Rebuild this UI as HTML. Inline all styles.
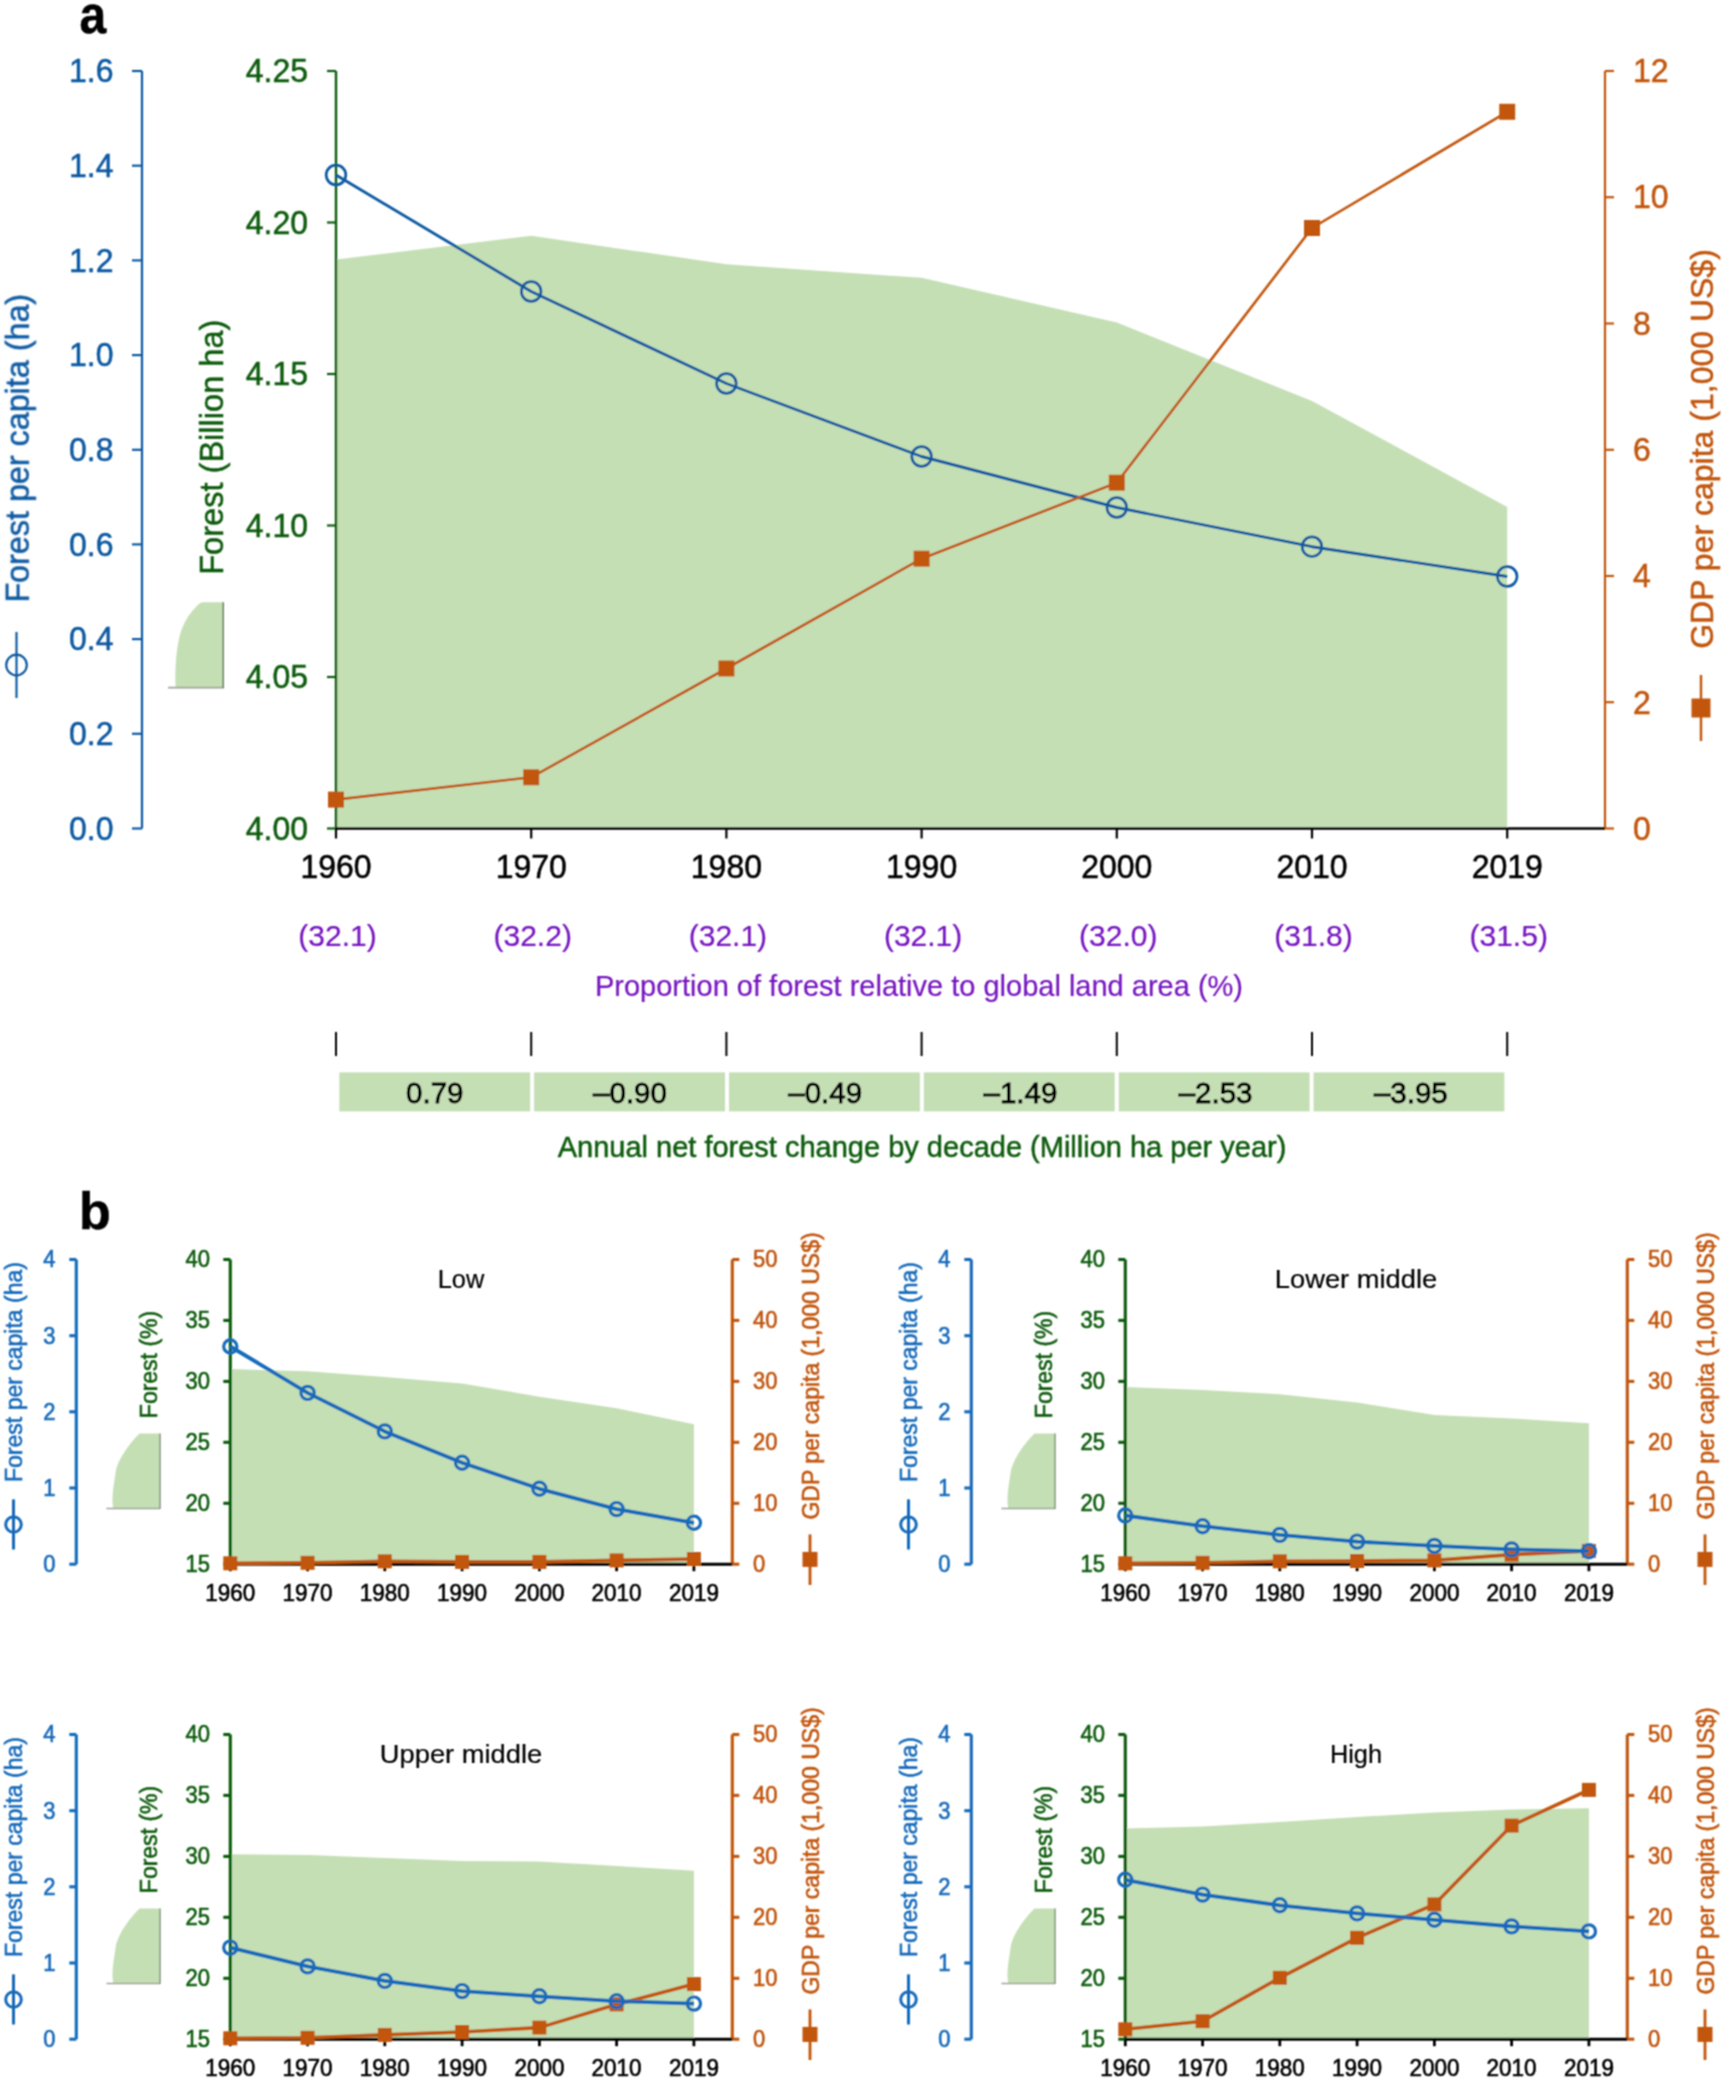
<!DOCTYPE html>
<html><head><meta charset="utf-8"><style>
html,body{margin:0;padding:0;background:#fff;}
svg{display:block;font-family:"Liberation Sans", sans-serif;}
text{stroke:currentColor;stroke-width:0.5px;}
.pb text{stroke-width:0.6px;}
</style></head><body>
<svg width="1725" height="2080" viewBox="0 0 1725 2080">
<defs><filter id="bl" x="0" y="0" width="1725" height="2080" filterUnits="userSpaceOnUse"><feConvolveMatrix order="3" kernelMatrix="1 2 1 2 4 2 1 2 1" divisor="16" edgeMode="duplicate"/></filter></defs>
<rect width="1725" height="2080" fill="#fff"/>
<g filter="url(#bl)">
<text x="0" y="0" font-size="48" font-weight="bold" fill="#000" transform="translate(79.5,33.3) scale(1,1.11)">a</text>
<polygon points="336.0,828.5 336.0,259.5 531.2,235.8 726.4,264.2 921.6,277.8 1116.8,322.5 1312.0,401.0 1507.2,507.0 1507.2,828.5" fill="#C5DFB5" />
<line x1="142.0" y1="71.0" x2="142.0" y2="828.5" stroke="#105AA2" stroke-width="2.2"/>
<line x1="132.0" y1="828.5" x2="142.0" y2="828.5" stroke="#105AA2" stroke-width="2.2"/>
<text x="0" y="0" fill="#105AA2" color="#105AA2" font-size="32" text-anchor="end" transform="translate(113.5,839.7) scale(1,1.04)" >0.0</text>
<line x1="132.0" y1="733.8" x2="142.0" y2="733.8" stroke="#105AA2" stroke-width="2.2"/>
<text x="0" y="0" fill="#105AA2" color="#105AA2" font-size="32" text-anchor="end" transform="translate(113.5,745.0) scale(1,1.04)" >0.2</text>
<line x1="132.0" y1="639.1" x2="142.0" y2="639.1" stroke="#105AA2" stroke-width="2.2"/>
<text x="0" y="0" fill="#105AA2" color="#105AA2" font-size="32" text-anchor="end" transform="translate(113.5,650.3) scale(1,1.04)" >0.4</text>
<line x1="132.0" y1="544.4" x2="142.0" y2="544.4" stroke="#105AA2" stroke-width="2.2"/>
<text x="0" y="0" fill="#105AA2" color="#105AA2" font-size="32" text-anchor="end" transform="translate(113.5,555.6) scale(1,1.04)" >0.6</text>
<line x1="132.0" y1="449.8" x2="142.0" y2="449.8" stroke="#105AA2" stroke-width="2.2"/>
<text x="0" y="0" fill="#105AA2" color="#105AA2" font-size="32" text-anchor="end" transform="translate(113.5,460.9) scale(1,1.04)" >0.8</text>
<line x1="132.0" y1="355.1" x2="142.0" y2="355.1" stroke="#105AA2" stroke-width="2.2"/>
<text x="0" y="0" fill="#105AA2" color="#105AA2" font-size="32" text-anchor="end" transform="translate(113.5,366.3) scale(1,1.04)" >1.0</text>
<line x1="132.0" y1="260.4" x2="142.0" y2="260.4" stroke="#105AA2" stroke-width="2.2"/>
<text x="0" y="0" fill="#105AA2" color="#105AA2" font-size="32" text-anchor="end" transform="translate(113.5,271.6) scale(1,1.04)" >1.2</text>
<line x1="132.0" y1="165.7" x2="142.0" y2="165.7" stroke="#105AA2" stroke-width="2.2"/>
<text x="0" y="0" fill="#105AA2" color="#105AA2" font-size="32" text-anchor="end" transform="translate(113.5,176.9) scale(1,1.04)" >1.4</text>
<line x1="132.0" y1="71.0" x2="142.0" y2="71.0" stroke="#105AA2" stroke-width="2.2"/>
<text x="0" y="0" fill="#105AA2" color="#105AA2" font-size="32" text-anchor="end" transform="translate(113.5,82.2) scale(1,1.04)" >1.6</text>
<line x1="336.0" y1="71.0" x2="336.0" y2="828.5" stroke="#0D5C0D" stroke-width="2.4"/>
<line x1="327.0" y1="828.5" x2="336.0" y2="828.5" stroke="#0D5C0D" stroke-width="2.2"/>
<text x="0" y="0" fill="#0D5C0D" color="#0D5C0D" font-size="32" text-anchor="end" transform="translate(308.0,839.7) scale(1,1.04)" >4.00</text>
<line x1="327.0" y1="677.0" x2="336.0" y2="677.0" stroke="#0D5C0D" stroke-width="2.2"/>
<text x="0" y="0" fill="#0D5C0D" color="#0D5C0D" font-size="32" text-anchor="end" transform="translate(308.0,688.2) scale(1,1.04)" >4.05</text>
<line x1="327.0" y1="525.5" x2="336.0" y2="525.5" stroke="#0D5C0D" stroke-width="2.2"/>
<text x="0" y="0" fill="#0D5C0D" color="#0D5C0D" font-size="32" text-anchor="end" transform="translate(308.0,536.7) scale(1,1.04)" >4.10</text>
<line x1="327.0" y1="374.0" x2="336.0" y2="374.0" stroke="#0D5C0D" stroke-width="2.2"/>
<text x="0" y="0" fill="#0D5C0D" color="#0D5C0D" font-size="32" text-anchor="end" transform="translate(308.0,385.2) scale(1,1.04)" >4.15</text>
<line x1="327.0" y1="222.5" x2="336.0" y2="222.5" stroke="#0D5C0D" stroke-width="2.2"/>
<text x="0" y="0" fill="#0D5C0D" color="#0D5C0D" font-size="32" text-anchor="end" transform="translate(308.0,233.7) scale(1,1.04)" >4.20</text>
<line x1="327.0" y1="71.0" x2="336.0" y2="71.0" stroke="#0D5C0D" stroke-width="2.2"/>
<text x="0" y="0" fill="#0D5C0D" color="#0D5C0D" font-size="32" text-anchor="end" transform="translate(308.0,82.2) scale(1,1.04)" >4.25</text>
<line x1="1605.0" y1="71.0" x2="1605.0" y2="828.5" stroke="#C2560F" stroke-width="2.2"/>
<line x1="1605.0" y1="828.5" x2="1614.0" y2="828.5" stroke="#C2560F" stroke-width="2.2"/>
<text x="0" y="0" fill="#C2560F" color="#C2560F" font-size="32" text-anchor="start" transform="translate(1633.0,839.7) scale(1,1.04)" >0</text>
<line x1="1605.0" y1="702.2" x2="1614.0" y2="702.2" stroke="#C2560F" stroke-width="2.2"/>
<text x="0" y="0" fill="#C2560F" color="#C2560F" font-size="32" text-anchor="start" transform="translate(1633.0,713.5) scale(1,1.04)" >2</text>
<line x1="1605.0" y1="576.0" x2="1614.0" y2="576.0" stroke="#C2560F" stroke-width="2.2"/>
<text x="0" y="0" fill="#C2560F" color="#C2560F" font-size="32" text-anchor="start" transform="translate(1633.0,587.2) scale(1,1.04)" >4</text>
<line x1="1605.0" y1="449.8" x2="1614.0" y2="449.8" stroke="#C2560F" stroke-width="2.2"/>
<text x="0" y="0" fill="#C2560F" color="#C2560F" font-size="32" text-anchor="start" transform="translate(1633.0,460.9) scale(1,1.04)" >6</text>
<line x1="1605.0" y1="323.5" x2="1614.0" y2="323.5" stroke="#C2560F" stroke-width="2.2"/>
<text x="0" y="0" fill="#C2560F" color="#C2560F" font-size="32" text-anchor="start" transform="translate(1633.0,334.7) scale(1,1.04)" >8</text>
<line x1="1605.0" y1="197.2" x2="1614.0" y2="197.2" stroke="#C2560F" stroke-width="2.2"/>
<text x="0" y="0" fill="#C2560F" color="#C2560F" font-size="32" text-anchor="start" transform="translate(1633.0,208.4) scale(1,1.04)" >10</text>
<line x1="1605.0" y1="71.0" x2="1614.0" y2="71.0" stroke="#C2560F" stroke-width="2.2"/>
<text x="0" y="0" fill="#C2560F" color="#C2560F" font-size="32" text-anchor="start" transform="translate(1633.0,82.2) scale(1,1.04)" >12</text>
<line x1="336.0" y1="828.5" x2="1605.0" y2="828.5" stroke="#000000" stroke-width="2.6"/>
<line x1="336.0" y1="828.5" x2="336.0" y2="838.5" stroke="#000000" stroke-width="2.2"/>
<text x="0" y="0" fill="#000000" color="#000000" font-size="32" text-anchor="middle" transform="translate(336.0,877.5) scale(1,1.04)" >1960</text>
<line x1="531.2" y1="828.5" x2="531.2" y2="838.5" stroke="#000000" stroke-width="2.2"/>
<text x="0" y="0" fill="#000000" color="#000000" font-size="32" text-anchor="middle" transform="translate(531.2,877.5) scale(1,1.04)" >1970</text>
<line x1="726.4" y1="828.5" x2="726.4" y2="838.5" stroke="#000000" stroke-width="2.2"/>
<text x="0" y="0" fill="#000000" color="#000000" font-size="32" text-anchor="middle" transform="translate(726.4,877.5) scale(1,1.04)" >1980</text>
<line x1="921.6" y1="828.5" x2="921.6" y2="838.5" stroke="#000000" stroke-width="2.2"/>
<text x="0" y="0" fill="#000000" color="#000000" font-size="32" text-anchor="middle" transform="translate(921.6,877.5) scale(1,1.04)" >1990</text>
<line x1="1116.8" y1="828.5" x2="1116.8" y2="838.5" stroke="#000000" stroke-width="2.2"/>
<text x="0" y="0" fill="#000000" color="#000000" font-size="32" text-anchor="middle" transform="translate(1116.8,877.5) scale(1,1.04)" >2000</text>
<line x1="1312.0" y1="828.5" x2="1312.0" y2="838.5" stroke="#000000" stroke-width="2.2"/>
<text x="0" y="0" fill="#000000" color="#000000" font-size="32" text-anchor="middle" transform="translate(1312.0,877.5) scale(1,1.04)" >2010</text>
<line x1="1507.2" y1="828.5" x2="1507.2" y2="838.5" stroke="#000000" stroke-width="2.2"/>
<text x="0" y="0" fill="#000000" color="#000000" font-size="32" text-anchor="middle" transform="translate(1507.2,877.5) scale(1,1.04)" >2019</text>
<polyline points="336.0,175.0 531.2,291.5 726.4,383.5 921.6,456.5 1116.8,507.5 1312.0,546.7 1507.2,576.5" fill="none" stroke="#105AA2" stroke-width="2.9" stroke-linejoin="round"/>
<circle cx="336.0" cy="175.0" r="9.8" fill="none" stroke="#105AA2" stroke-width="2.7"/>
<circle cx="531.2" cy="291.5" r="9.8" fill="none" stroke="#105AA2" stroke-width="2.7"/>
<circle cx="726.4" cy="383.5" r="9.8" fill="none" stroke="#105AA2" stroke-width="2.7"/>
<circle cx="921.6" cy="456.5" r="9.8" fill="none" stroke="#105AA2" stroke-width="2.7"/>
<circle cx="1116.8" cy="507.5" r="9.8" fill="none" stroke="#105AA2" stroke-width="2.7"/>
<circle cx="1312.0" cy="546.7" r="9.8" fill="none" stroke="#105AA2" stroke-width="2.7"/>
<circle cx="1507.2" cy="576.5" r="9.8" fill="none" stroke="#105AA2" stroke-width="2.7"/>
<polyline points="336.0,799.6 531.2,777.3 726.4,668.5 921.6,558.7 1116.8,482.7 1312.0,228.0 1507.2,111.8" fill="none" stroke="#C2560F" stroke-width="2.6" stroke-linejoin="round"/>
<rect x="328.0" y="791.6" width="16" height="16" fill="#C2560F"/>
<rect x="523.2" y="769.3" width="16" height="16" fill="#C2560F"/>
<rect x="718.4" y="660.5" width="16" height="16" fill="#C2560F"/>
<rect x="913.6" y="550.7" width="16" height="16" fill="#C2560F"/>
<rect x="1108.8" y="474.7" width="16" height="16" fill="#C2560F"/>
<rect x="1304.0" y="220.0" width="16" height="16" fill="#C2560F"/>
<rect x="1499.2" y="103.8" width="16" height="16" fill="#C2560F"/>
<text x="0" y="0" fill="#105AA2" color="#105AA2" font-size="32.3" text-anchor="middle" transform="translate(28.8,448.2) rotate(-90)" >Forest per capita (ha)</text>
<text x="0" y="0" fill="#0D5C0D" color="#0D5C0D" font-size="32.6" text-anchor="middle" transform="translate(223.0,447.2) rotate(-90)" >Forest (Billion ha)</text>
<text x="0" y="0" fill="#C2560F" color="#C2560F" font-size="32" text-anchor="middle" transform="translate(1713.0,449.0) rotate(-90)" >GDP per capita (1,000 US$)</text>
<line x1="16.5" y1="632.0" x2="16.5" y2="698.0" stroke="#105AA2" stroke-width="2.2"/>
<circle cx="16.5" cy="665.0" r="10.3" fill="none" stroke="#105AA2" stroke-width="2.2"/>
<path d="M175.6 687.6 C175 675 175.5 655 178.8 640 C181 628 187 616 195 608 C198 604.5 200 602.5 203 602.2 L223.2 602.2 L223.2 687.6 Z" fill="#C5DFB5"/>
<line x1="168.0" y1="687.6" x2="223.2" y2="687.6" stroke="#9ea69a" stroke-width="1.6"/>
<line x1="223.2" y1="602.2" x2="223.2" y2="688.2" stroke="#5E7058" stroke-width="1.4"/>
<line x1="1701.0" y1="675.0" x2="1701.0" y2="741.0" stroke="#C2560F" stroke-width="2.4"/>
<rect x="1691.5" y="698.5" width="19" height="19" fill="#C2560F"/>
<text x="337.5" y="946.3" fill="#7412C0" color="#7412C0" font-size="30" text-anchor="middle" style="stroke-width:0.15px">(32.1)</text>
<text x="532.7" y="946.3" fill="#7412C0" color="#7412C0" font-size="30" text-anchor="middle" style="stroke-width:0.15px">(32.2)</text>
<text x="727.9" y="946.3" fill="#7412C0" color="#7412C0" font-size="30" text-anchor="middle" style="stroke-width:0.15px">(32.1)</text>
<text x="923.1" y="946.3" fill="#7412C0" color="#7412C0" font-size="30" text-anchor="middle" style="stroke-width:0.15px">(32.1)</text>
<text x="1118.3" y="946.3" fill="#7412C0" color="#7412C0" font-size="30" text-anchor="middle" style="stroke-width:0.15px">(32.0)</text>
<text x="1313.5" y="946.3" fill="#7412C0" color="#7412C0" font-size="30" text-anchor="middle" style="stroke-width:0.15px">(31.8)</text>
<text x="1508.7" y="946.3" fill="#7412C0" color="#7412C0" font-size="30" text-anchor="middle" style="stroke-width:0.15px">(31.5)</text>
<text x="919.0" y="996.3" fill="#7412C0" color="#7412C0" font-size="29" text-anchor="middle" style="stroke-width:0.15px">Proportion of forest relative to global land area (%)</text>
<line x1="336.0" y1="1032.0" x2="336.0" y2="1056.0" stroke="#000000" stroke-width="2"/>
<line x1="531.2" y1="1032.0" x2="531.2" y2="1056.0" stroke="#000000" stroke-width="2"/>
<line x1="726.4" y1="1032.0" x2="726.4" y2="1056.0" stroke="#000000" stroke-width="2"/>
<line x1="921.6" y1="1032.0" x2="921.6" y2="1056.0" stroke="#000000" stroke-width="2"/>
<line x1="1116.8" y1="1032.0" x2="1116.8" y2="1056.0" stroke="#000000" stroke-width="2"/>
<line x1="1312.0" y1="1032.0" x2="1312.0" y2="1056.0" stroke="#000000" stroke-width="2"/>
<line x1="1507.2" y1="1032.0" x2="1507.2" y2="1056.0" stroke="#000000" stroke-width="2"/>
<rect x="339.3" y="1072.4" width="190.9" height="39" fill="#C5DFB5"/>
<text x="434.8" y="1102.8" fill="#000000" color="#000000" font-size="29.5" text-anchor="middle" style="stroke-width:0.9px">0.79</text>
<rect x="534.1" y="1072.4" width="190.9" height="39" fill="#C5DFB5"/>
<text x="630.0" y="1102.8" fill="#000000" color="#000000" font-size="29.5" text-anchor="middle" style="stroke-width:0.9px">&#8211;0.90</text>
<rect x="729.0" y="1072.4" width="190.9" height="39" fill="#C5DFB5"/>
<text x="825.2" y="1102.8" fill="#000000" color="#000000" font-size="29.5" text-anchor="middle" style="stroke-width:0.9px">&#8211;0.49</text>
<rect x="923.8" y="1072.4" width="190.9" height="39" fill="#C5DFB5"/>
<text x="1020.4" y="1102.8" fill="#000000" color="#000000" font-size="29.5" text-anchor="middle" style="stroke-width:0.9px">&#8211;1.49</text>
<rect x="1118.7" y="1072.4" width="190.9" height="39" fill="#C5DFB5"/>
<text x="1215.6" y="1102.8" fill="#000000" color="#000000" font-size="29.5" text-anchor="middle" style="stroke-width:0.9px">&#8211;2.53</text>
<rect x="1313.5" y="1072.4" width="190.9" height="39" fill="#C5DFB5"/>
<text x="1410.8" y="1102.8" fill="#000000" color="#000000" font-size="29.5" text-anchor="middle" style="stroke-width:0.9px">&#8211;3.95</text>
<text x="922.0" y="1156.8" fill="#0D5C0D" color="#0D5C0D" font-size="29" text-anchor="middle" >Annual net forest change by decade (Million ha per year)</text>
<text x="79" y="1229.2" font-size="52" font-weight="bold" fill="#000">b</text>
<g class="pb">
<polygon points="230.3,1564.2 230.3,1369.1 307.6,1371.2 384.8,1377.0 462.1,1383.6 539.4,1396.7 616.6,1408.3 693.9,1424.2 693.9,1564.2" fill="#C5DFB5" />
<line x1="76.3" y1="1259.5" x2="76.3" y2="1564.2" stroke="#176BBB" stroke-width="3.1"/>
<line x1="69.3" y1="1564.2" x2="76.3" y2="1564.2" stroke="#176BBB" stroke-width="3.1"/>
<text x="0" y="0" fill="#176BBB" color="#176BBB" font-size="22" text-anchor="end" transform="translate(55.5,1572.0) scale(1,1.07)" >0</text>
<line x1="69.3" y1="1488.0" x2="76.3" y2="1488.0" stroke="#176BBB" stroke-width="3.1"/>
<text x="0" y="0" fill="#176BBB" color="#176BBB" font-size="22" text-anchor="end" transform="translate(55.5,1495.8) scale(1,1.07)" >1</text>
<line x1="69.3" y1="1411.8" x2="76.3" y2="1411.8" stroke="#176BBB" stroke-width="3.1"/>
<text x="0" y="0" fill="#176BBB" color="#176BBB" font-size="22" text-anchor="end" transform="translate(55.5,1419.6) scale(1,1.07)" >2</text>
<line x1="69.3" y1="1335.7" x2="76.3" y2="1335.7" stroke="#176BBB" stroke-width="3.1"/>
<text x="0" y="0" fill="#176BBB" color="#176BBB" font-size="22" text-anchor="end" transform="translate(55.5,1343.5) scale(1,1.07)" >3</text>
<line x1="69.3" y1="1259.5" x2="76.3" y2="1259.5" stroke="#176BBB" stroke-width="3.1"/>
<text x="0" y="0" fill="#176BBB" color="#176BBB" font-size="22" text-anchor="end" transform="translate(55.5,1267.3) scale(1,1.07)" >4</text>
<line x1="230.3" y1="1259.5" x2="230.3" y2="1564.2" stroke="#0D5C0D" stroke-width="3.1"/>
<line x1="223.3" y1="1564.2" x2="230.3" y2="1564.2" stroke="#0D5C0D" stroke-width="3.1"/>
<text x="0" y="0" fill="#0D5C0D" color="#0D5C0D" font-size="22" text-anchor="end" transform="translate(210.0,1572.0) scale(1,1.07)" >15</text>
<line x1="223.3" y1="1503.3" x2="230.3" y2="1503.3" stroke="#0D5C0D" stroke-width="3.1"/>
<text x="0" y="0" fill="#0D5C0D" color="#0D5C0D" font-size="22" text-anchor="end" transform="translate(210.0,1511.1) scale(1,1.07)" >20</text>
<line x1="223.3" y1="1442.3" x2="230.3" y2="1442.3" stroke="#0D5C0D" stroke-width="3.1"/>
<text x="0" y="0" fill="#0D5C0D" color="#0D5C0D" font-size="22" text-anchor="end" transform="translate(210.0,1450.1) scale(1,1.07)" >25</text>
<line x1="223.3" y1="1381.4" x2="230.3" y2="1381.4" stroke="#0D5C0D" stroke-width="3.1"/>
<text x="0" y="0" fill="#0D5C0D" color="#0D5C0D" font-size="22" text-anchor="end" transform="translate(210.0,1389.2) scale(1,1.07)" >30</text>
<line x1="223.3" y1="1320.4" x2="230.3" y2="1320.4" stroke="#0D5C0D" stroke-width="3.1"/>
<text x="0" y="0" fill="#0D5C0D" color="#0D5C0D" font-size="22" text-anchor="end" transform="translate(210.0,1328.2) scale(1,1.07)" >35</text>
<line x1="223.3" y1="1259.5" x2="230.3" y2="1259.5" stroke="#0D5C0D" stroke-width="3.1"/>
<text x="0" y="0" fill="#0D5C0D" color="#0D5C0D" font-size="22" text-anchor="end" transform="translate(210.0,1267.3) scale(1,1.07)" >40</text>
<line x1="732.3" y1="1259.5" x2="732.3" y2="1564.2" stroke="#C2560F" stroke-width="3.1"/>
<line x1="732.3" y1="1564.2" x2="739.3" y2="1564.2" stroke="#C2560F" stroke-width="3.1"/>
<text x="0" y="0" fill="#C2560F" color="#C2560F" font-size="22" text-anchor="start" transform="translate(753.0,1572.0) scale(1,1.07)" >0</text>
<line x1="732.3" y1="1503.3" x2="739.3" y2="1503.3" stroke="#C2560F" stroke-width="3.1"/>
<text x="0" y="0" fill="#C2560F" color="#C2560F" font-size="22" text-anchor="start" transform="translate(753.0,1511.1) scale(1,1.07)" >10</text>
<line x1="732.3" y1="1442.3" x2="739.3" y2="1442.3" stroke="#C2560F" stroke-width="3.1"/>
<text x="0" y="0" fill="#C2560F" color="#C2560F" font-size="22" text-anchor="start" transform="translate(753.0,1450.1) scale(1,1.07)" >20</text>
<line x1="732.3" y1="1381.4" x2="739.3" y2="1381.4" stroke="#C2560F" stroke-width="3.1"/>
<text x="0" y="0" fill="#C2560F" color="#C2560F" font-size="22" text-anchor="start" transform="translate(753.0,1389.2) scale(1,1.07)" >30</text>
<line x1="732.3" y1="1320.4" x2="739.3" y2="1320.4" stroke="#C2560F" stroke-width="3.1"/>
<text x="0" y="0" fill="#C2560F" color="#C2560F" font-size="22" text-anchor="start" transform="translate(753.0,1328.2) scale(1,1.07)" >40</text>
<line x1="732.3" y1="1259.5" x2="739.3" y2="1259.5" stroke="#C2560F" stroke-width="3.1"/>
<text x="0" y="0" fill="#C2560F" color="#C2560F" font-size="22" text-anchor="start" transform="translate(753.0,1267.3) scale(1,1.07)" >50</text>
<line x1="230.3" y1="1564.2" x2="732.3" y2="1564.2" stroke="#000000" stroke-width="3.1"/>
<line x1="230.3" y1="1564.2" x2="230.3" y2="1571.2" stroke="#000000" stroke-width="2.8"/>
<text x="0" y="0" fill="#000000" color="#000000" font-size="22.5" text-anchor="middle" transform="translate(230.3,1600.7) scale(1,1.07)" >1960</text>
<line x1="307.6" y1="1564.2" x2="307.6" y2="1571.2" stroke="#000000" stroke-width="2.8"/>
<text x="0" y="0" fill="#000000" color="#000000" font-size="22.5" text-anchor="middle" transform="translate(307.6,1600.7) scale(1,1.07)" >1970</text>
<line x1="384.8" y1="1564.2" x2="384.8" y2="1571.2" stroke="#000000" stroke-width="2.8"/>
<text x="0" y="0" fill="#000000" color="#000000" font-size="22.5" text-anchor="middle" transform="translate(384.8,1600.7) scale(1,1.07)" >1980</text>
<line x1="462.1" y1="1564.2" x2="462.1" y2="1571.2" stroke="#000000" stroke-width="2.8"/>
<text x="0" y="0" fill="#000000" color="#000000" font-size="22.5" text-anchor="middle" transform="translate(462.1,1600.7) scale(1,1.07)" >1990</text>
<line x1="539.4" y1="1564.2" x2="539.4" y2="1571.2" stroke="#000000" stroke-width="2.8"/>
<text x="0" y="0" fill="#000000" color="#000000" font-size="22.5" text-anchor="middle" transform="translate(539.4,1600.7) scale(1,1.07)" >2000</text>
<line x1="616.6" y1="1564.2" x2="616.6" y2="1571.2" stroke="#000000" stroke-width="2.8"/>
<text x="0" y="0" fill="#000000" color="#000000" font-size="22.5" text-anchor="middle" transform="translate(616.6,1600.7) scale(1,1.07)" >2010</text>
<line x1="693.9" y1="1564.2" x2="693.9" y2="1571.2" stroke="#000000" stroke-width="2.8"/>
<text x="0" y="0" fill="#000000" color="#000000" font-size="22.5" text-anchor="middle" transform="translate(693.9,1600.7) scale(1,1.07)" >2019</text>
<polyline points="230.3,1563.3 307.6,1562.8 384.8,1561.3 462.1,1561.9 539.4,1561.9 616.6,1560.4 693.9,1559.0" fill="none" stroke="#C2560F" stroke-width="3.6" stroke-linejoin="round"/>
<rect x="223.3" y="1556.3" width="14" height="14" fill="#C2560F"/>
<rect x="300.6" y="1555.8" width="14" height="14" fill="#C2560F"/>
<rect x="377.8" y="1554.3" width="14" height="14" fill="#C2560F"/>
<rect x="455.1" y="1554.9" width="14" height="14" fill="#C2560F"/>
<rect x="532.4" y="1554.9" width="14" height="14" fill="#C2560F"/>
<rect x="609.6" y="1553.4" width="14" height="14" fill="#C2560F"/>
<rect x="686.9" y="1552.0" width="14" height="14" fill="#C2560F"/>
<polyline points="230.3,1346.5 307.6,1392.9 384.8,1431.4 462.1,1462.8 539.4,1488.8 616.6,1509.1 693.9,1522.8" fill="none" stroke="#176BBB" stroke-width="3.8" stroke-linejoin="round"/>
<circle cx="230.3" cy="1346.5" r="6.6" fill="none" stroke="#176BBB" stroke-width="3.2"/>
<circle cx="307.6" cy="1392.9" r="6.6" fill="none" stroke="#176BBB" stroke-width="3.2"/>
<circle cx="384.8" cy="1431.4" r="6.6" fill="none" stroke="#176BBB" stroke-width="3.2"/>
<circle cx="462.1" cy="1462.8" r="6.6" fill="none" stroke="#176BBB" stroke-width="3.2"/>
<circle cx="539.4" cy="1488.8" r="6.6" fill="none" stroke="#176BBB" stroke-width="3.2"/>
<circle cx="616.6" cy="1509.1" r="6.6" fill="none" stroke="#176BBB" stroke-width="3.2"/>
<circle cx="693.9" cy="1522.8" r="6.6" fill="none" stroke="#176BBB" stroke-width="3.2"/>
<text x="461.0" y="1288.0" fill="#000" color="#000" font-size="26" text-anchor="middle" style="stroke-width:0.2px" textLength="46.6" lengthAdjust="spacingAndGlyphs">Low</text>
<text x="0" y="0" fill="#176BBB" color="#176BBB" font-size="23" text-anchor="middle" transform="translate(21.5,1372.0) rotate(-90)" >Forest per capita (ha)</text>
<text x="0" y="0" fill="#0D5C0D" color="#0D5C0D" font-size="23" text-anchor="middle" transform="translate(156.5,1364.5) rotate(-90)" >Forest (%)</text>
<text x="0" y="0" fill="#C2560F" color="#C2560F" font-size="23" text-anchor="middle" transform="translate(818.5,1376.0) rotate(-90)" >GDP per capita (1,000 US$)</text>
<line x1="13.5" y1="1499.4" x2="13.5" y2="1549.5" stroke="#176BBB" stroke-width="3.0"/>
<circle cx="13.5" cy="1524.5" r="7.8" fill="none" stroke="#176BBB" stroke-width="3.0"/>
<path transform="translate(0,0)" d="M113.3 1508.5 C111 1497 114 1485 116 1470 C119 1458 128 1446 136 1437 L139.5 1433.5 L160 1433.5 L160 1508.5 Z" fill="#C5DFB5"/>
<line x1="106.4" y1="1508.5" x2="160.0" y2="1508.5" stroke="#9ea69a" stroke-width="1.6"/>
<line x1="160.0" y1="1433.5" x2="160.0" y2="1509.0" stroke="#7E8E78" stroke-width="1.4"/>
<line x1="810.0" y1="1534.4" x2="810.0" y2="1585.0" stroke="#C2560F" stroke-width="2.8"/>
<rect x="802.5" y="1551.9" width="15" height="15" fill="#C2560F"/>
</g>
<g class="pb">
<polygon points="1125.3,1564.2 1125.3,1387.1 1202.6,1390.0 1279.8,1394.3 1357.1,1402.5 1434.4,1414.9 1511.6,1418.4 1588.9,1423.3 1588.9,1564.2" fill="#C5DFB5" />
<line x1="971.3" y1="1259.5" x2="971.3" y2="1564.2" stroke="#176BBB" stroke-width="3.1"/>
<line x1="964.3" y1="1564.2" x2="971.3" y2="1564.2" stroke="#176BBB" stroke-width="3.1"/>
<text x="0" y="0" fill="#176BBB" color="#176BBB" font-size="22" text-anchor="end" transform="translate(950.5,1572.0) scale(1,1.07)" >0</text>
<line x1="964.3" y1="1488.0" x2="971.3" y2="1488.0" stroke="#176BBB" stroke-width="3.1"/>
<text x="0" y="0" fill="#176BBB" color="#176BBB" font-size="22" text-anchor="end" transform="translate(950.5,1495.8) scale(1,1.07)" >1</text>
<line x1="964.3" y1="1411.8" x2="971.3" y2="1411.8" stroke="#176BBB" stroke-width="3.1"/>
<text x="0" y="0" fill="#176BBB" color="#176BBB" font-size="22" text-anchor="end" transform="translate(950.5,1419.6) scale(1,1.07)" >2</text>
<line x1="964.3" y1="1335.7" x2="971.3" y2="1335.7" stroke="#176BBB" stroke-width="3.1"/>
<text x="0" y="0" fill="#176BBB" color="#176BBB" font-size="22" text-anchor="end" transform="translate(950.5,1343.5) scale(1,1.07)" >3</text>
<line x1="964.3" y1="1259.5" x2="971.3" y2="1259.5" stroke="#176BBB" stroke-width="3.1"/>
<text x="0" y="0" fill="#176BBB" color="#176BBB" font-size="22" text-anchor="end" transform="translate(950.5,1267.3) scale(1,1.07)" >4</text>
<line x1="1125.3" y1="1259.5" x2="1125.3" y2="1564.2" stroke="#0D5C0D" stroke-width="3.1"/>
<line x1="1118.3" y1="1564.2" x2="1125.3" y2="1564.2" stroke="#0D5C0D" stroke-width="3.1"/>
<text x="0" y="0" fill="#0D5C0D" color="#0D5C0D" font-size="22" text-anchor="end" transform="translate(1105.0,1572.0) scale(1,1.07)" >15</text>
<line x1="1118.3" y1="1503.3" x2="1125.3" y2="1503.3" stroke="#0D5C0D" stroke-width="3.1"/>
<text x="0" y="0" fill="#0D5C0D" color="#0D5C0D" font-size="22" text-anchor="end" transform="translate(1105.0,1511.1) scale(1,1.07)" >20</text>
<line x1="1118.3" y1="1442.3" x2="1125.3" y2="1442.3" stroke="#0D5C0D" stroke-width="3.1"/>
<text x="0" y="0" fill="#0D5C0D" color="#0D5C0D" font-size="22" text-anchor="end" transform="translate(1105.0,1450.1) scale(1,1.07)" >25</text>
<line x1="1118.3" y1="1381.4" x2="1125.3" y2="1381.4" stroke="#0D5C0D" stroke-width="3.1"/>
<text x="0" y="0" fill="#0D5C0D" color="#0D5C0D" font-size="22" text-anchor="end" transform="translate(1105.0,1389.2) scale(1,1.07)" >30</text>
<line x1="1118.3" y1="1320.4" x2="1125.3" y2="1320.4" stroke="#0D5C0D" stroke-width="3.1"/>
<text x="0" y="0" fill="#0D5C0D" color="#0D5C0D" font-size="22" text-anchor="end" transform="translate(1105.0,1328.2) scale(1,1.07)" >35</text>
<line x1="1118.3" y1="1259.5" x2="1125.3" y2="1259.5" stroke="#0D5C0D" stroke-width="3.1"/>
<text x="0" y="0" fill="#0D5C0D" color="#0D5C0D" font-size="22" text-anchor="end" transform="translate(1105.0,1267.3) scale(1,1.07)" >40</text>
<line x1="1627.3" y1="1259.5" x2="1627.3" y2="1564.2" stroke="#C2560F" stroke-width="3.1"/>
<line x1="1627.3" y1="1564.2" x2="1634.3" y2="1564.2" stroke="#C2560F" stroke-width="3.1"/>
<text x="0" y="0" fill="#C2560F" color="#C2560F" font-size="22" text-anchor="start" transform="translate(1648.0,1572.0) scale(1,1.07)" >0</text>
<line x1="1627.3" y1="1503.3" x2="1634.3" y2="1503.3" stroke="#C2560F" stroke-width="3.1"/>
<text x="0" y="0" fill="#C2560F" color="#C2560F" font-size="22" text-anchor="start" transform="translate(1648.0,1511.1) scale(1,1.07)" >10</text>
<line x1="1627.3" y1="1442.3" x2="1634.3" y2="1442.3" stroke="#C2560F" stroke-width="3.1"/>
<text x="0" y="0" fill="#C2560F" color="#C2560F" font-size="22" text-anchor="start" transform="translate(1648.0,1450.1) scale(1,1.07)" >20</text>
<line x1="1627.3" y1="1381.4" x2="1634.3" y2="1381.4" stroke="#C2560F" stroke-width="3.1"/>
<text x="0" y="0" fill="#C2560F" color="#C2560F" font-size="22" text-anchor="start" transform="translate(1648.0,1389.2) scale(1,1.07)" >30</text>
<line x1="1627.3" y1="1320.4" x2="1634.3" y2="1320.4" stroke="#C2560F" stroke-width="3.1"/>
<text x="0" y="0" fill="#C2560F" color="#C2560F" font-size="22" text-anchor="start" transform="translate(1648.0,1328.2) scale(1,1.07)" >40</text>
<line x1="1627.3" y1="1259.5" x2="1634.3" y2="1259.5" stroke="#C2560F" stroke-width="3.1"/>
<text x="0" y="0" fill="#C2560F" color="#C2560F" font-size="22" text-anchor="start" transform="translate(1648.0,1267.3) scale(1,1.07)" >50</text>
<line x1="1125.3" y1="1564.2" x2="1627.3" y2="1564.2" stroke="#000000" stroke-width="3.1"/>
<line x1="1125.3" y1="1564.2" x2="1125.3" y2="1571.2" stroke="#000000" stroke-width="2.8"/>
<text x="0" y="0" fill="#000000" color="#000000" font-size="22.5" text-anchor="middle" transform="translate(1125.3,1600.7) scale(1,1.07)" >1960</text>
<line x1="1202.6" y1="1564.2" x2="1202.6" y2="1571.2" stroke="#000000" stroke-width="2.8"/>
<text x="0" y="0" fill="#000000" color="#000000" font-size="22.5" text-anchor="middle" transform="translate(1202.6,1600.7) scale(1,1.07)" >1970</text>
<line x1="1279.8" y1="1564.2" x2="1279.8" y2="1571.2" stroke="#000000" stroke-width="2.8"/>
<text x="0" y="0" fill="#000000" color="#000000" font-size="22.5" text-anchor="middle" transform="translate(1279.8,1600.7) scale(1,1.07)" >1980</text>
<line x1="1357.1" y1="1564.2" x2="1357.1" y2="1571.2" stroke="#000000" stroke-width="2.8"/>
<text x="0" y="0" fill="#000000" color="#000000" font-size="22.5" text-anchor="middle" transform="translate(1357.1,1600.7) scale(1,1.07)" >1990</text>
<line x1="1434.4" y1="1564.2" x2="1434.4" y2="1571.2" stroke="#000000" stroke-width="2.8"/>
<text x="0" y="0" fill="#000000" color="#000000" font-size="22.5" text-anchor="middle" transform="translate(1434.4,1600.7) scale(1,1.07)" >2000</text>
<line x1="1511.6" y1="1564.2" x2="1511.6" y2="1571.2" stroke="#000000" stroke-width="2.8"/>
<text x="0" y="0" fill="#000000" color="#000000" font-size="22.5" text-anchor="middle" transform="translate(1511.6,1600.7) scale(1,1.07)" >2010</text>
<line x1="1588.9" y1="1564.2" x2="1588.9" y2="1571.2" stroke="#000000" stroke-width="2.8"/>
<text x="0" y="0" fill="#000000" color="#000000" font-size="22.5" text-anchor="middle" transform="translate(1588.9,1600.7) scale(1,1.07)" >2019</text>
<polyline points="1125.3,1563.3 1202.6,1562.8 1279.8,1561.3 1357.1,1561.0 1434.4,1560.4 1511.6,1554.6 1588.9,1550.9" fill="none" stroke="#C2560F" stroke-width="3.6" stroke-linejoin="round"/>
<rect x="1118.3" y="1556.3" width="14" height="14" fill="#C2560F"/>
<rect x="1195.6" y="1555.8" width="14" height="14" fill="#C2560F"/>
<rect x="1272.8" y="1554.3" width="14" height="14" fill="#C2560F"/>
<rect x="1350.1" y="1554.0" width="14" height="14" fill="#C2560F"/>
<rect x="1427.4" y="1553.4" width="14" height="14" fill="#C2560F"/>
<rect x="1504.6" y="1547.6" width="14" height="14" fill="#C2560F"/>
<rect x="1581.9" y="1543.9" width="14" height="14" fill="#C2560F"/>
<polyline points="1125.3,1515.5 1202.6,1526.2 1279.8,1534.9 1357.1,1541.6 1434.4,1545.9 1511.6,1549.4 1588.9,1551.2" fill="none" stroke="#176BBB" stroke-width="3.8" stroke-linejoin="round"/>
<circle cx="1125.3" cy="1515.5" r="6.6" fill="none" stroke="#176BBB" stroke-width="3.2"/>
<circle cx="1202.6" cy="1526.2" r="6.6" fill="none" stroke="#176BBB" stroke-width="3.2"/>
<circle cx="1279.8" cy="1534.9" r="6.6" fill="none" stroke="#176BBB" stroke-width="3.2"/>
<circle cx="1357.1" cy="1541.6" r="6.6" fill="none" stroke="#176BBB" stroke-width="3.2"/>
<circle cx="1434.4" cy="1545.9" r="6.6" fill="none" stroke="#176BBB" stroke-width="3.2"/>
<circle cx="1511.6" cy="1549.4" r="6.6" fill="none" stroke="#176BBB" stroke-width="3.2"/>
<circle cx="1588.9" cy="1551.2" r="6.6" fill="none" stroke="#176BBB" stroke-width="3.2"/>
<text x="1356.0" y="1288.0" fill="#000" color="#000" font-size="26" text-anchor="middle" style="stroke-width:0.2px" textLength="162.3" lengthAdjust="spacingAndGlyphs">Lower middle</text>
<text x="0" y="0" fill="#176BBB" color="#176BBB" font-size="23" text-anchor="middle" transform="translate(916.5,1372.0) rotate(-90)" >Forest per capita (ha)</text>
<text x="0" y="0" fill="#0D5C0D" color="#0D5C0D" font-size="23" text-anchor="middle" transform="translate(1051.5,1364.5) rotate(-90)" >Forest (%)</text>
<text x="0" y="0" fill="#C2560F" color="#C2560F" font-size="23" text-anchor="middle" transform="translate(1713.5,1376.0) rotate(-90)" >GDP per capita (1,000 US$)</text>
<line x1="908.5" y1="1499.4" x2="908.5" y2="1549.5" stroke="#176BBB" stroke-width="3.0"/>
<circle cx="908.5" cy="1524.5" r="7.8" fill="none" stroke="#176BBB" stroke-width="3.0"/>
<path transform="translate(895,0)" d="M113.3 1508.5 C111 1497 114 1485 116 1470 C119 1458 128 1446 136 1437 L139.5 1433.5 L160 1433.5 L160 1508.5 Z" fill="#C5DFB5"/>
<line x1="1001.4" y1="1508.5" x2="1055.0" y2="1508.5" stroke="#9ea69a" stroke-width="1.6"/>
<line x1="1055.0" y1="1433.5" x2="1055.0" y2="1509.0" stroke="#7E8E78" stroke-width="1.4"/>
<line x1="1705.0" y1="1534.4" x2="1705.0" y2="1585.0" stroke="#C2560F" stroke-width="2.8"/>
<rect x="1697.5" y="1551.9" width="15" height="15" fill="#C2560F"/>
</g>
<g class="pb">
<polygon points="230.3,2039.2 230.3,1854.3 307.6,1854.9 384.8,1858.0 462.1,1860.9 539.4,1861.5 616.6,1865.9 693.9,1870.8 693.9,2039.2" fill="#C5DFB5" />
<line x1="76.3" y1="1734.5" x2="76.3" y2="2039.2" stroke="#176BBB" stroke-width="3.1"/>
<line x1="69.3" y1="2039.2" x2="76.3" y2="2039.2" stroke="#176BBB" stroke-width="3.1"/>
<text x="0" y="0" fill="#176BBB" color="#176BBB" font-size="22" text-anchor="end" transform="translate(55.5,2047.0) scale(1,1.07)" >0</text>
<line x1="69.3" y1="1963.0" x2="76.3" y2="1963.0" stroke="#176BBB" stroke-width="3.1"/>
<text x="0" y="0" fill="#176BBB" color="#176BBB" font-size="22" text-anchor="end" transform="translate(55.5,1970.8) scale(1,1.07)" >1</text>
<line x1="69.3" y1="1886.8" x2="76.3" y2="1886.8" stroke="#176BBB" stroke-width="3.1"/>
<text x="0" y="0" fill="#176BBB" color="#176BBB" font-size="22" text-anchor="end" transform="translate(55.5,1894.6) scale(1,1.07)" >2</text>
<line x1="69.3" y1="1810.7" x2="76.3" y2="1810.7" stroke="#176BBB" stroke-width="3.1"/>
<text x="0" y="0" fill="#176BBB" color="#176BBB" font-size="22" text-anchor="end" transform="translate(55.5,1818.5) scale(1,1.07)" >3</text>
<line x1="69.3" y1="1734.5" x2="76.3" y2="1734.5" stroke="#176BBB" stroke-width="3.1"/>
<text x="0" y="0" fill="#176BBB" color="#176BBB" font-size="22" text-anchor="end" transform="translate(55.5,1742.3) scale(1,1.07)" >4</text>
<line x1="230.3" y1="1734.5" x2="230.3" y2="2039.2" stroke="#0D5C0D" stroke-width="3.1"/>
<line x1="223.3" y1="2039.2" x2="230.3" y2="2039.2" stroke="#0D5C0D" stroke-width="3.1"/>
<text x="0" y="0" fill="#0D5C0D" color="#0D5C0D" font-size="22" text-anchor="end" transform="translate(210.0,2047.0) scale(1,1.07)" >15</text>
<line x1="223.3" y1="1978.3" x2="230.3" y2="1978.3" stroke="#0D5C0D" stroke-width="3.1"/>
<text x="0" y="0" fill="#0D5C0D" color="#0D5C0D" font-size="22" text-anchor="end" transform="translate(210.0,1986.1) scale(1,1.07)" >20</text>
<line x1="223.3" y1="1917.3" x2="230.3" y2="1917.3" stroke="#0D5C0D" stroke-width="3.1"/>
<text x="0" y="0" fill="#0D5C0D" color="#0D5C0D" font-size="22" text-anchor="end" transform="translate(210.0,1925.1) scale(1,1.07)" >25</text>
<line x1="223.3" y1="1856.4" x2="230.3" y2="1856.4" stroke="#0D5C0D" stroke-width="3.1"/>
<text x="0" y="0" fill="#0D5C0D" color="#0D5C0D" font-size="22" text-anchor="end" transform="translate(210.0,1864.2) scale(1,1.07)" >30</text>
<line x1="223.3" y1="1795.4" x2="230.3" y2="1795.4" stroke="#0D5C0D" stroke-width="3.1"/>
<text x="0" y="0" fill="#0D5C0D" color="#0D5C0D" font-size="22" text-anchor="end" transform="translate(210.0,1803.2) scale(1,1.07)" >35</text>
<line x1="223.3" y1="1734.5" x2="230.3" y2="1734.5" stroke="#0D5C0D" stroke-width="3.1"/>
<text x="0" y="0" fill="#0D5C0D" color="#0D5C0D" font-size="22" text-anchor="end" transform="translate(210.0,1742.3) scale(1,1.07)" >40</text>
<line x1="732.3" y1="1734.5" x2="732.3" y2="2039.2" stroke="#C2560F" stroke-width="3.1"/>
<line x1="732.3" y1="2039.2" x2="739.3" y2="2039.2" stroke="#C2560F" stroke-width="3.1"/>
<text x="0" y="0" fill="#C2560F" color="#C2560F" font-size="22" text-anchor="start" transform="translate(753.0,2047.0) scale(1,1.07)" >0</text>
<line x1="732.3" y1="1978.3" x2="739.3" y2="1978.3" stroke="#C2560F" stroke-width="3.1"/>
<text x="0" y="0" fill="#C2560F" color="#C2560F" font-size="22" text-anchor="start" transform="translate(753.0,1986.1) scale(1,1.07)" >10</text>
<line x1="732.3" y1="1917.3" x2="739.3" y2="1917.3" stroke="#C2560F" stroke-width="3.1"/>
<text x="0" y="0" fill="#C2560F" color="#C2560F" font-size="22" text-anchor="start" transform="translate(753.0,1925.1) scale(1,1.07)" >20</text>
<line x1="732.3" y1="1856.4" x2="739.3" y2="1856.4" stroke="#C2560F" stroke-width="3.1"/>
<text x="0" y="0" fill="#C2560F" color="#C2560F" font-size="22" text-anchor="start" transform="translate(753.0,1864.2) scale(1,1.07)" >30</text>
<line x1="732.3" y1="1795.4" x2="739.3" y2="1795.4" stroke="#C2560F" stroke-width="3.1"/>
<text x="0" y="0" fill="#C2560F" color="#C2560F" font-size="22" text-anchor="start" transform="translate(753.0,1803.2) scale(1,1.07)" >40</text>
<line x1="732.3" y1="1734.5" x2="739.3" y2="1734.5" stroke="#C2560F" stroke-width="3.1"/>
<text x="0" y="0" fill="#C2560F" color="#C2560F" font-size="22" text-anchor="start" transform="translate(753.0,1742.3) scale(1,1.07)" >50</text>
<line x1="230.3" y1="2039.2" x2="732.3" y2="2039.2" stroke="#000000" stroke-width="3.1"/>
<line x1="230.3" y1="2039.2" x2="230.3" y2="2046.2" stroke="#000000" stroke-width="2.8"/>
<text x="0" y="0" fill="#000000" color="#000000" font-size="22.5" text-anchor="middle" transform="translate(230.3,2075.7) scale(1,1.07)" >1960</text>
<line x1="307.6" y1="2039.2" x2="307.6" y2="2046.2" stroke="#000000" stroke-width="2.8"/>
<text x="0" y="0" fill="#000000" color="#000000" font-size="22.5" text-anchor="middle" transform="translate(307.6,2075.7) scale(1,1.07)" >1970</text>
<line x1="384.8" y1="2039.2" x2="384.8" y2="2046.2" stroke="#000000" stroke-width="2.8"/>
<text x="0" y="0" fill="#000000" color="#000000" font-size="22.5" text-anchor="middle" transform="translate(384.8,2075.7) scale(1,1.07)" >1980</text>
<line x1="462.1" y1="2039.2" x2="462.1" y2="2046.2" stroke="#000000" stroke-width="2.8"/>
<text x="0" y="0" fill="#000000" color="#000000" font-size="22.5" text-anchor="middle" transform="translate(462.1,2075.7) scale(1,1.07)" >1990</text>
<line x1="539.4" y1="2039.2" x2="539.4" y2="2046.2" stroke="#000000" stroke-width="2.8"/>
<text x="0" y="0" fill="#000000" color="#000000" font-size="22.5" text-anchor="middle" transform="translate(539.4,2075.7) scale(1,1.07)" >2000</text>
<line x1="616.6" y1="2039.2" x2="616.6" y2="2046.2" stroke="#000000" stroke-width="2.8"/>
<text x="0" y="0" fill="#000000" color="#000000" font-size="22.5" text-anchor="middle" transform="translate(616.6,2075.7) scale(1,1.07)" >2010</text>
<line x1="693.9" y1="2039.2" x2="693.9" y2="2046.2" stroke="#000000" stroke-width="2.8"/>
<text x="0" y="0" fill="#000000" color="#000000" font-size="22.5" text-anchor="middle" transform="translate(693.9,2075.7) scale(1,1.07)" >2019</text>
<polyline points="230.3,2038.3 307.6,2037.8 384.8,2034.9 462.1,2032.0 539.4,2027.6 616.6,2004.4 693.9,1984.1" fill="none" stroke="#C2560F" stroke-width="3.6" stroke-linejoin="round"/>
<rect x="223.3" y="2031.3" width="14" height="14" fill="#C2560F"/>
<rect x="300.6" y="2030.8" width="14" height="14" fill="#C2560F"/>
<rect x="377.8" y="2027.9" width="14" height="14" fill="#C2560F"/>
<rect x="455.1" y="2025.0" width="14" height="14" fill="#C2560F"/>
<rect x="532.4" y="2020.6" width="14" height="14" fill="#C2560F"/>
<rect x="609.6" y="1997.4" width="14" height="14" fill="#C2560F"/>
<rect x="686.9" y="1977.1" width="14" height="14" fill="#C2560F"/>
<polyline points="230.3,1947.6 307.6,1966.4 384.8,1980.9 462.1,1991.1 539.4,1996.3 616.6,2001.2 693.9,2003.6" fill="none" stroke="#176BBB" stroke-width="3.8" stroke-linejoin="round"/>
<circle cx="230.3" cy="1947.6" r="6.6" fill="none" stroke="#176BBB" stroke-width="3.2"/>
<circle cx="307.6" cy="1966.4" r="6.6" fill="none" stroke="#176BBB" stroke-width="3.2"/>
<circle cx="384.8" cy="1980.9" r="6.6" fill="none" stroke="#176BBB" stroke-width="3.2"/>
<circle cx="462.1" cy="1991.1" r="6.6" fill="none" stroke="#176BBB" stroke-width="3.2"/>
<circle cx="539.4" cy="1996.3" r="6.6" fill="none" stroke="#176BBB" stroke-width="3.2"/>
<circle cx="616.6" cy="2001.2" r="6.6" fill="none" stroke="#176BBB" stroke-width="3.2"/>
<circle cx="693.9" cy="2003.6" r="6.6" fill="none" stroke="#176BBB" stroke-width="3.2"/>
<text x="461.0" y="1763.0" fill="#000" color="#000" font-size="26" text-anchor="middle" style="stroke-width:0.2px" textLength="162.3" lengthAdjust="spacingAndGlyphs">Upper middle</text>
<text x="0" y="0" fill="#176BBB" color="#176BBB" font-size="23" text-anchor="middle" transform="translate(21.5,1847.0) rotate(-90)" >Forest per capita (ha)</text>
<text x="0" y="0" fill="#0D5C0D" color="#0D5C0D" font-size="23" text-anchor="middle" transform="translate(156.5,1839.5) rotate(-90)" >Forest (%)</text>
<text x="0" y="0" fill="#C2560F" color="#C2560F" font-size="23" text-anchor="middle" transform="translate(818.5,1851.0) rotate(-90)" >GDP per capita (1,000 US$)</text>
<line x1="13.5" y1="1974.4" x2="13.5" y2="2024.5" stroke="#176BBB" stroke-width="3.0"/>
<circle cx="13.5" cy="1999.5" r="7.8" fill="none" stroke="#176BBB" stroke-width="3.0"/>
<path transform="translate(0,475)" d="M113.3 1508.5 C111 1497 114 1485 116 1470 C119 1458 128 1446 136 1437 L139.5 1433.5 L160 1433.5 L160 1508.5 Z" fill="#C5DFB5"/>
<line x1="106.4" y1="1983.5" x2="160.0" y2="1983.5" stroke="#9ea69a" stroke-width="1.6"/>
<line x1="160.0" y1="1908.5" x2="160.0" y2="1984.0" stroke="#7E8E78" stroke-width="1.4"/>
<line x1="810.0" y1="2009.4" x2="810.0" y2="2060.0" stroke="#C2560F" stroke-width="2.8"/>
<rect x="802.5" y="2026.9" width="15" height="15" fill="#C2560F"/>
</g>
<g class="pb">
<polygon points="1125.3,2039.2 1125.3,1828.5 1202.6,1826.4 1279.8,1822.1 1357.1,1816.9 1434.4,1812.5 1511.6,1809.6 1588.9,1808.2 1588.9,2039.2" fill="#C5DFB5" />
<line x1="971.3" y1="1734.5" x2="971.3" y2="2039.2" stroke="#176BBB" stroke-width="3.1"/>
<line x1="964.3" y1="2039.2" x2="971.3" y2="2039.2" stroke="#176BBB" stroke-width="3.1"/>
<text x="0" y="0" fill="#176BBB" color="#176BBB" font-size="22" text-anchor="end" transform="translate(950.5,2047.0) scale(1,1.07)" >0</text>
<line x1="964.3" y1="1963.0" x2="971.3" y2="1963.0" stroke="#176BBB" stroke-width="3.1"/>
<text x="0" y="0" fill="#176BBB" color="#176BBB" font-size="22" text-anchor="end" transform="translate(950.5,1970.8) scale(1,1.07)" >1</text>
<line x1="964.3" y1="1886.8" x2="971.3" y2="1886.8" stroke="#176BBB" stroke-width="3.1"/>
<text x="0" y="0" fill="#176BBB" color="#176BBB" font-size="22" text-anchor="end" transform="translate(950.5,1894.6) scale(1,1.07)" >2</text>
<line x1="964.3" y1="1810.7" x2="971.3" y2="1810.7" stroke="#176BBB" stroke-width="3.1"/>
<text x="0" y="0" fill="#176BBB" color="#176BBB" font-size="22" text-anchor="end" transform="translate(950.5,1818.5) scale(1,1.07)" >3</text>
<line x1="964.3" y1="1734.5" x2="971.3" y2="1734.5" stroke="#176BBB" stroke-width="3.1"/>
<text x="0" y="0" fill="#176BBB" color="#176BBB" font-size="22" text-anchor="end" transform="translate(950.5,1742.3) scale(1,1.07)" >4</text>
<line x1="1125.3" y1="1734.5" x2="1125.3" y2="2039.2" stroke="#0D5C0D" stroke-width="3.1"/>
<line x1="1118.3" y1="2039.2" x2="1125.3" y2="2039.2" stroke="#0D5C0D" stroke-width="3.1"/>
<text x="0" y="0" fill="#0D5C0D" color="#0D5C0D" font-size="22" text-anchor="end" transform="translate(1105.0,2047.0) scale(1,1.07)" >15</text>
<line x1="1118.3" y1="1978.3" x2="1125.3" y2="1978.3" stroke="#0D5C0D" stroke-width="3.1"/>
<text x="0" y="0" fill="#0D5C0D" color="#0D5C0D" font-size="22" text-anchor="end" transform="translate(1105.0,1986.1) scale(1,1.07)" >20</text>
<line x1="1118.3" y1="1917.3" x2="1125.3" y2="1917.3" stroke="#0D5C0D" stroke-width="3.1"/>
<text x="0" y="0" fill="#0D5C0D" color="#0D5C0D" font-size="22" text-anchor="end" transform="translate(1105.0,1925.1) scale(1,1.07)" >25</text>
<line x1="1118.3" y1="1856.4" x2="1125.3" y2="1856.4" stroke="#0D5C0D" stroke-width="3.1"/>
<text x="0" y="0" fill="#0D5C0D" color="#0D5C0D" font-size="22" text-anchor="end" transform="translate(1105.0,1864.2) scale(1,1.07)" >30</text>
<line x1="1118.3" y1="1795.4" x2="1125.3" y2="1795.4" stroke="#0D5C0D" stroke-width="3.1"/>
<text x="0" y="0" fill="#0D5C0D" color="#0D5C0D" font-size="22" text-anchor="end" transform="translate(1105.0,1803.2) scale(1,1.07)" >35</text>
<line x1="1118.3" y1="1734.5" x2="1125.3" y2="1734.5" stroke="#0D5C0D" stroke-width="3.1"/>
<text x="0" y="0" fill="#0D5C0D" color="#0D5C0D" font-size="22" text-anchor="end" transform="translate(1105.0,1742.3) scale(1,1.07)" >40</text>
<line x1="1627.3" y1="1734.5" x2="1627.3" y2="2039.2" stroke="#C2560F" stroke-width="3.1"/>
<line x1="1627.3" y1="2039.2" x2="1634.3" y2="2039.2" stroke="#C2560F" stroke-width="3.1"/>
<text x="0" y="0" fill="#C2560F" color="#C2560F" font-size="22" text-anchor="start" transform="translate(1648.0,2047.0) scale(1,1.07)" >0</text>
<line x1="1627.3" y1="1978.3" x2="1634.3" y2="1978.3" stroke="#C2560F" stroke-width="3.1"/>
<text x="0" y="0" fill="#C2560F" color="#C2560F" font-size="22" text-anchor="start" transform="translate(1648.0,1986.1) scale(1,1.07)" >10</text>
<line x1="1627.3" y1="1917.3" x2="1634.3" y2="1917.3" stroke="#C2560F" stroke-width="3.1"/>
<text x="0" y="0" fill="#C2560F" color="#C2560F" font-size="22" text-anchor="start" transform="translate(1648.0,1925.1) scale(1,1.07)" >20</text>
<line x1="1627.3" y1="1856.4" x2="1634.3" y2="1856.4" stroke="#C2560F" stroke-width="3.1"/>
<text x="0" y="0" fill="#C2560F" color="#C2560F" font-size="22" text-anchor="start" transform="translate(1648.0,1864.2) scale(1,1.07)" >30</text>
<line x1="1627.3" y1="1795.4" x2="1634.3" y2="1795.4" stroke="#C2560F" stroke-width="3.1"/>
<text x="0" y="0" fill="#C2560F" color="#C2560F" font-size="22" text-anchor="start" transform="translate(1648.0,1803.2) scale(1,1.07)" >40</text>
<line x1="1627.3" y1="1734.5" x2="1634.3" y2="1734.5" stroke="#C2560F" stroke-width="3.1"/>
<text x="0" y="0" fill="#C2560F" color="#C2560F" font-size="22" text-anchor="start" transform="translate(1648.0,1742.3) scale(1,1.07)" >50</text>
<line x1="1125.3" y1="2039.2" x2="1627.3" y2="2039.2" stroke="#000000" stroke-width="3.1"/>
<line x1="1125.3" y1="2039.2" x2="1125.3" y2="2046.2" stroke="#000000" stroke-width="2.8"/>
<text x="0" y="0" fill="#000000" color="#000000" font-size="22.5" text-anchor="middle" transform="translate(1125.3,2075.7) scale(1,1.07)" >1960</text>
<line x1="1202.6" y1="2039.2" x2="1202.6" y2="2046.2" stroke="#000000" stroke-width="2.8"/>
<text x="0" y="0" fill="#000000" color="#000000" font-size="22.5" text-anchor="middle" transform="translate(1202.6,2075.7) scale(1,1.07)" >1970</text>
<line x1="1279.8" y1="2039.2" x2="1279.8" y2="2046.2" stroke="#000000" stroke-width="2.8"/>
<text x="0" y="0" fill="#000000" color="#000000" font-size="22.5" text-anchor="middle" transform="translate(1279.8,2075.7) scale(1,1.07)" >1980</text>
<line x1="1357.1" y1="2039.2" x2="1357.1" y2="2046.2" stroke="#000000" stroke-width="2.8"/>
<text x="0" y="0" fill="#000000" color="#000000" font-size="22.5" text-anchor="middle" transform="translate(1357.1,2075.7) scale(1,1.07)" >1990</text>
<line x1="1434.4" y1="2039.2" x2="1434.4" y2="2046.2" stroke="#000000" stroke-width="2.8"/>
<text x="0" y="0" fill="#000000" color="#000000" font-size="22.5" text-anchor="middle" transform="translate(1434.4,2075.7) scale(1,1.07)" >2000</text>
<line x1="1511.6" y1="2039.2" x2="1511.6" y2="2046.2" stroke="#000000" stroke-width="2.8"/>
<text x="0" y="0" fill="#000000" color="#000000" font-size="22.5" text-anchor="middle" transform="translate(1511.6,2075.7) scale(1,1.07)" >2010</text>
<line x1="1588.9" y1="2039.2" x2="1588.9" y2="2046.2" stroke="#000000" stroke-width="2.8"/>
<text x="0" y="0" fill="#000000" color="#000000" font-size="22.5" text-anchor="middle" transform="translate(1588.9,2075.7) scale(1,1.07)" >2019</text>
<polyline points="1125.3,2029.3 1202.6,2021.2 1279.8,1977.8 1357.1,1937.8 1434.4,1904.4 1511.6,1825.6 1588.9,1789.9" fill="none" stroke="#C2560F" stroke-width="3.6" stroke-linejoin="round"/>
<rect x="1118.3" y="2022.3" width="14" height="14" fill="#C2560F"/>
<rect x="1195.6" y="2014.2" width="14" height="14" fill="#C2560F"/>
<rect x="1272.8" y="1970.8" width="14" height="14" fill="#C2560F"/>
<rect x="1350.1" y="1930.8" width="14" height="14" fill="#C2560F"/>
<rect x="1427.4" y="1897.4" width="14" height="14" fill="#C2560F"/>
<rect x="1504.6" y="1818.6" width="14" height="14" fill="#C2560F"/>
<rect x="1581.9" y="1782.9" width="14" height="14" fill="#C2560F"/>
<polyline points="1125.3,1879.8 1202.6,1894.6 1279.8,1905.3 1357.1,1913.4 1434.4,1919.8 1511.6,1926.4 1588.9,1931.4" fill="none" stroke="#176BBB" stroke-width="3.8" stroke-linejoin="round"/>
<circle cx="1125.3" cy="1879.8" r="6.6" fill="none" stroke="#176BBB" stroke-width="3.2"/>
<circle cx="1202.6" cy="1894.6" r="6.6" fill="none" stroke="#176BBB" stroke-width="3.2"/>
<circle cx="1279.8" cy="1905.3" r="6.6" fill="none" stroke="#176BBB" stroke-width="3.2"/>
<circle cx="1357.1" cy="1913.4" r="6.6" fill="none" stroke="#176BBB" stroke-width="3.2"/>
<circle cx="1434.4" cy="1919.8" r="6.6" fill="none" stroke="#176BBB" stroke-width="3.2"/>
<circle cx="1511.6" cy="1926.4" r="6.6" fill="none" stroke="#176BBB" stroke-width="3.2"/>
<circle cx="1588.9" cy="1931.4" r="6.6" fill="none" stroke="#176BBB" stroke-width="3.2"/>
<text x="1356.0" y="1763.0" fill="#000" color="#000" font-size="26" text-anchor="middle" style="stroke-width:0.2px" textLength="52.2" lengthAdjust="spacingAndGlyphs">High</text>
<text x="0" y="0" fill="#176BBB" color="#176BBB" font-size="23" text-anchor="middle" transform="translate(916.5,1847.0) rotate(-90)" >Forest per capita (ha)</text>
<text x="0" y="0" fill="#0D5C0D" color="#0D5C0D" font-size="23" text-anchor="middle" transform="translate(1051.5,1839.5) rotate(-90)" >Forest (%)</text>
<text x="0" y="0" fill="#C2560F" color="#C2560F" font-size="23" text-anchor="middle" transform="translate(1713.5,1851.0) rotate(-90)" >GDP per capita (1,000 US$)</text>
<line x1="908.5" y1="1974.4" x2="908.5" y2="2024.5" stroke="#176BBB" stroke-width="3.0"/>
<circle cx="908.5" cy="1999.5" r="7.8" fill="none" stroke="#176BBB" stroke-width="3.0"/>
<path transform="translate(895,475)" d="M113.3 1508.5 C111 1497 114 1485 116 1470 C119 1458 128 1446 136 1437 L139.5 1433.5 L160 1433.5 L160 1508.5 Z" fill="#C5DFB5"/>
<line x1="1001.4" y1="1983.5" x2="1055.0" y2="1983.5" stroke="#9ea69a" stroke-width="1.6"/>
<line x1="1055.0" y1="1908.5" x2="1055.0" y2="1984.0" stroke="#7E8E78" stroke-width="1.4"/>
<line x1="1705.0" y1="2009.4" x2="1705.0" y2="2060.0" stroke="#C2560F" stroke-width="2.8"/>
<rect x="1697.5" y="2026.9" width="15" height="15" fill="#C2560F"/>
</g>
</g>
</svg>
</body></html>
